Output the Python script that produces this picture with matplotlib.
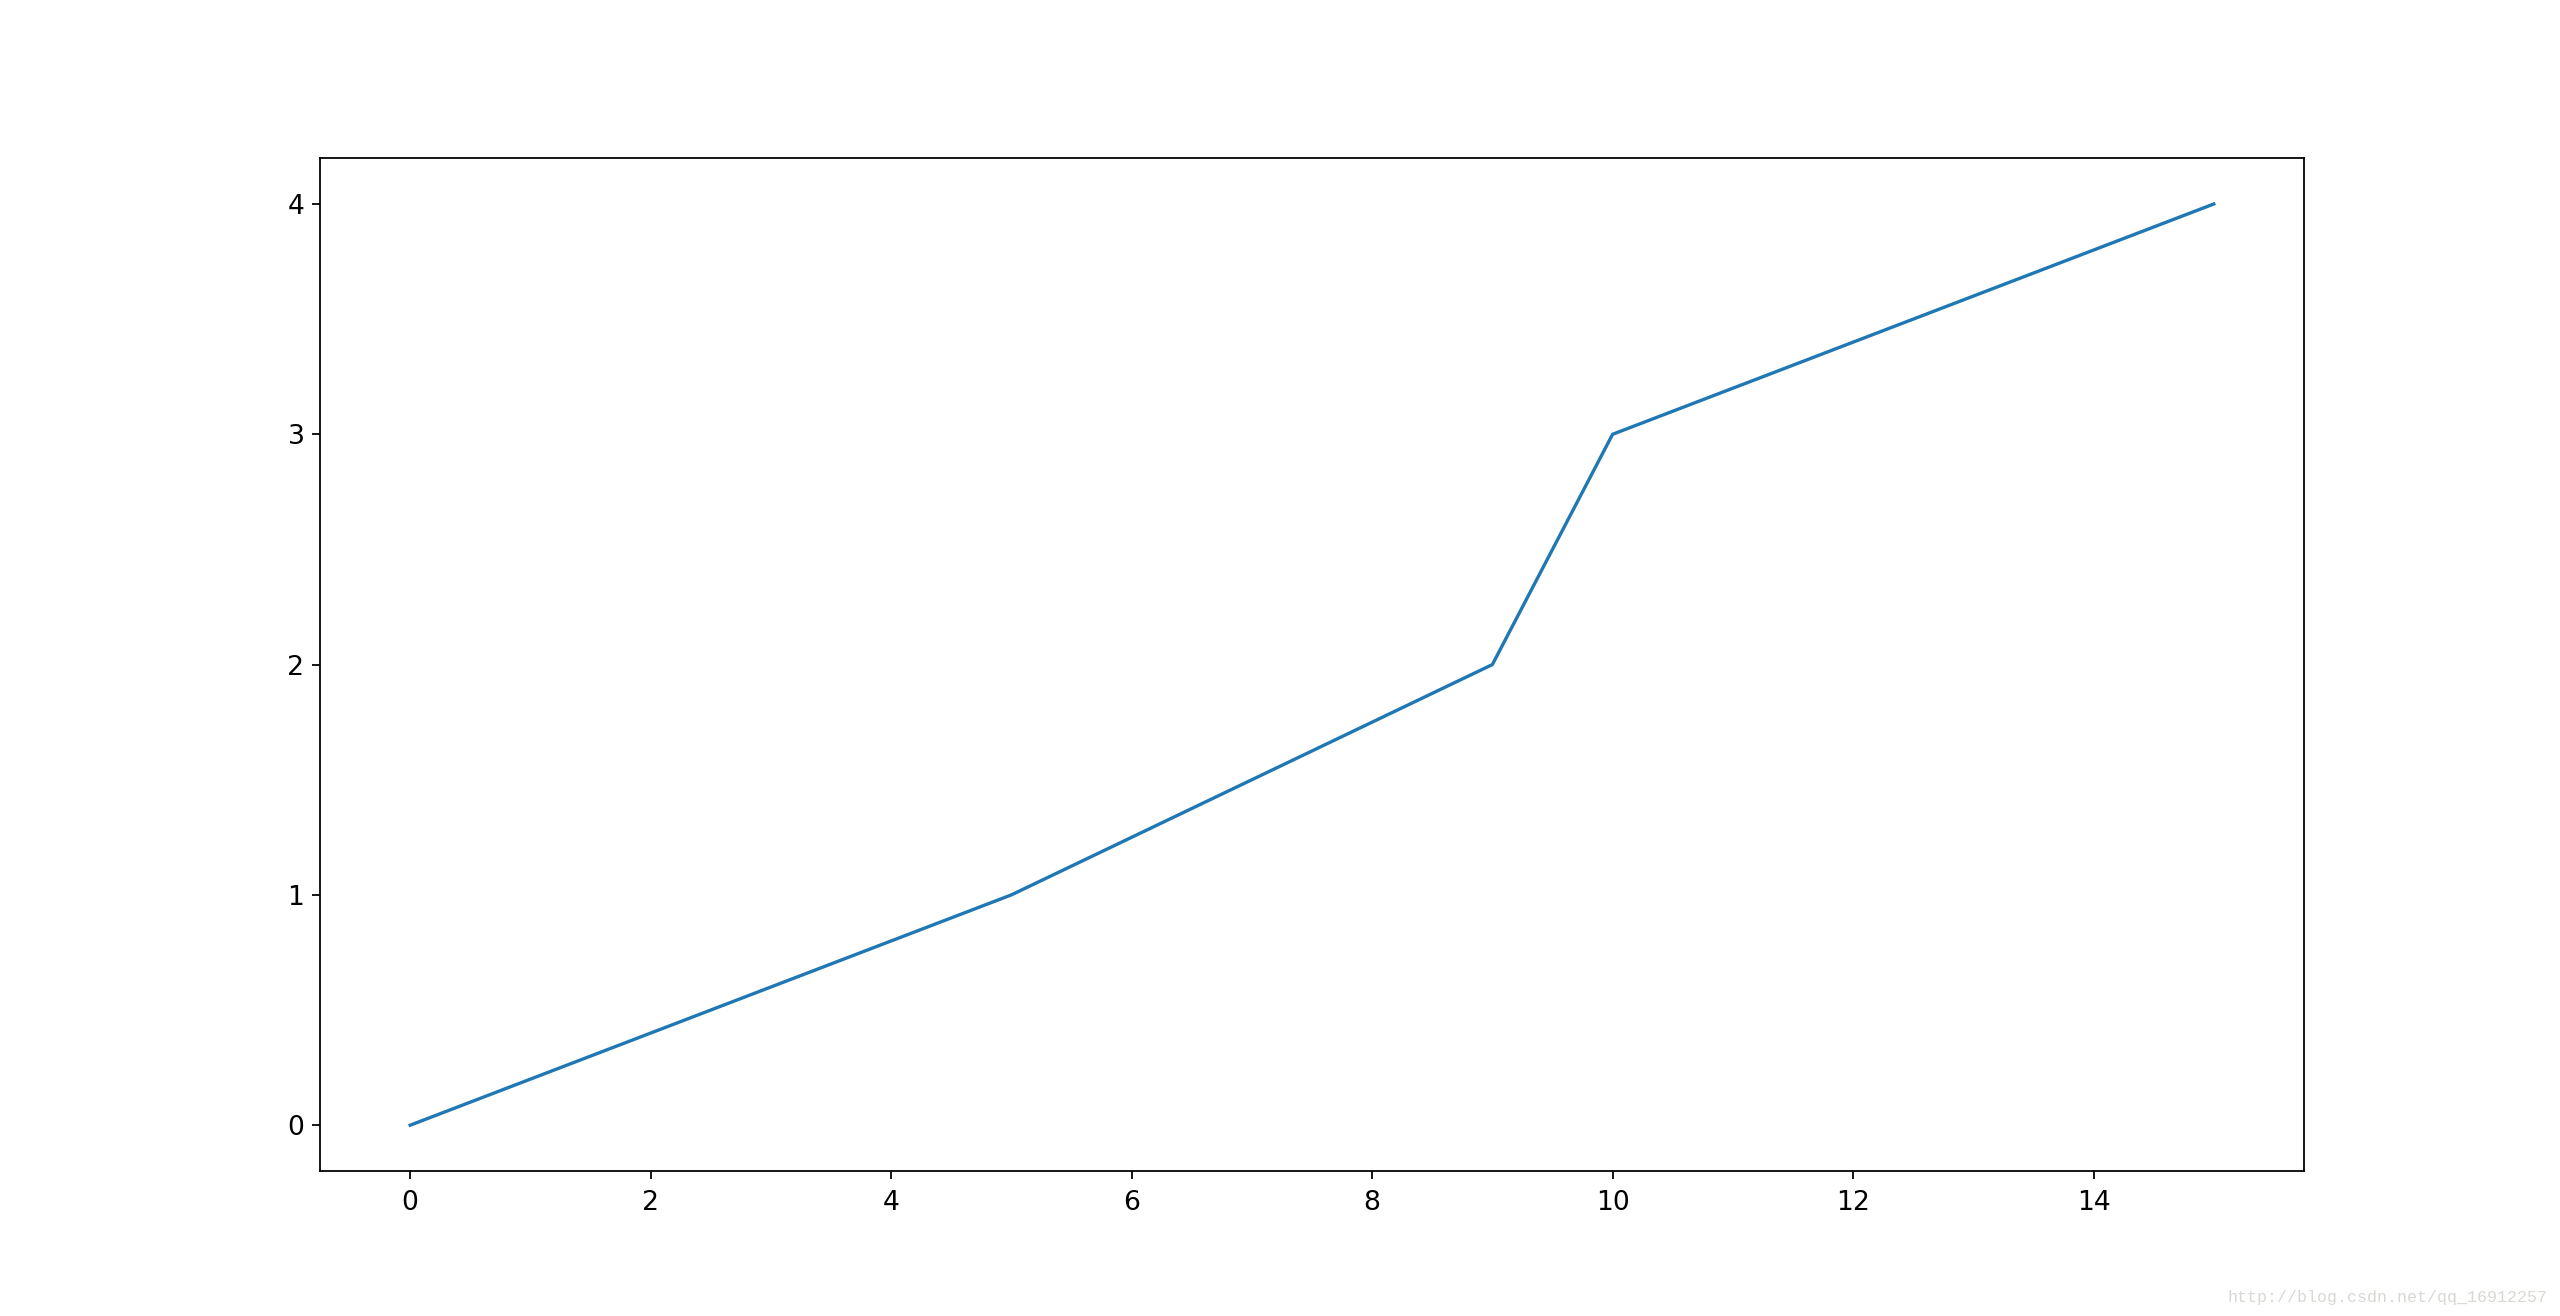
import matplotlib
matplotlib.use('Agg')
import matplotlib.pyplot as plt

x = [0, 5, 9, 10, 15]
y = [0, 1, 2, 3, 4]

plt.rcParams['xtick.labelsize'] = 12
plt.rcParams['ytick.labelsize'] = 12
plt.rcParams['xtick.major.pad'] = 5

fig = plt.figure(figsize=(16, 8.225), dpi=160)
ax = fig.add_subplot(111)
ax.plot(x, y)

ax.set_xticks(range(0, 16, 2))
ax.set_yticks(range(0, 5))

fig.text(0.995, 0.008, "http://blog.csdn.net/qq_16912257", ha='right', va='bottom',
         fontsize=7.5, family='Liberation Mono', color='#d8d8d4')

fig.savefig('out.png', dpi=160)
